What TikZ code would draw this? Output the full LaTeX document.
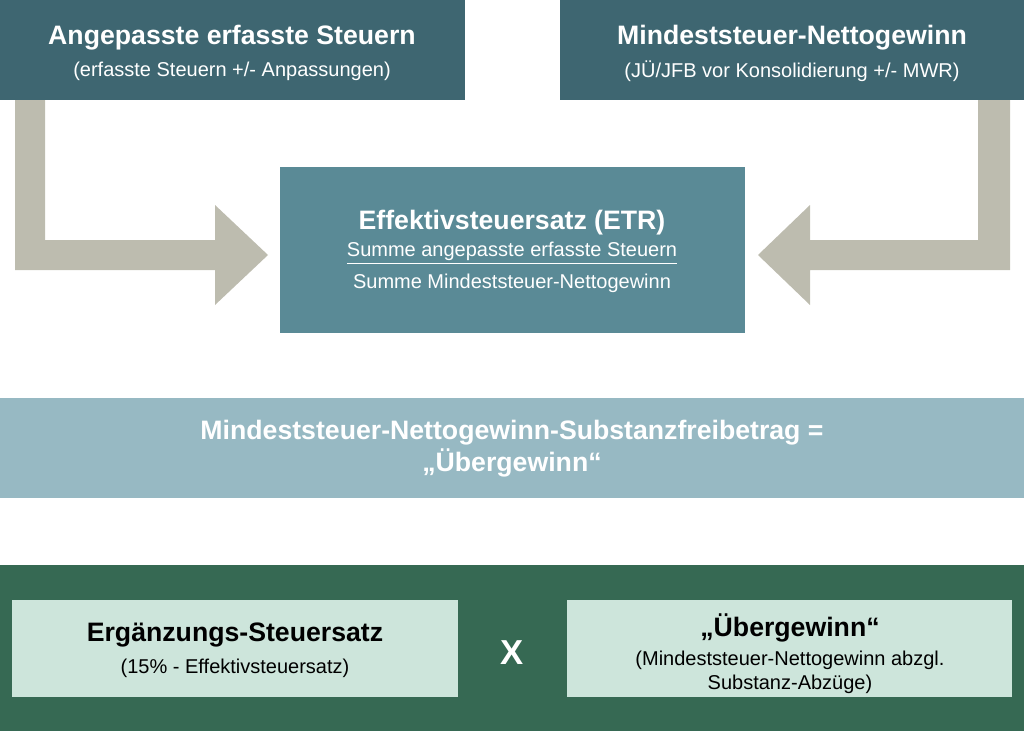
\documentclass[tikz,border=0pt]{standalone}
\usepackage{fontspec}
\setmainfont{Liberation Sans}
\definecolor{dk}{HTML}{3E6671}
\definecolor{mid}{HTML}{5A8A96}
\definecolor{band}{HTML}{97B9C3}
\definecolor{arr}{HTML}{BDBCAF}
\definecolor{grn}{HTML}{366953}
\definecolor{lt}{HTML}{CDE5DB}
\begin{document}
\begin{tikzpicture}[x=0.75pt,y=-0.75pt,
  tt/.style={font=\bfseries\fontsize{20}{24}\selectfont},
  st/.style={font=\fontsize{15}{18}\selectfont}]
\useasboundingbox (0,0) rectangle (1024,731);
% arrows
\fill[arr] (15,100) -- (45,100) -- (45,240) -- (215,240) -- (215,205) -- (268,255) -- (215,305) -- (215,270) -- (15,270) -- cycle;
\fill[arr] (1010,100) -- (978,100) -- (978,240) -- (810,240) -- (810,205) -- (758,255) -- (810,305) -- (810,270) -- (1010,270) -- cycle;
% top boxes
\fill[dk] (0,0) rectangle (465,100);
\fill[dk] (560,0) rectangle (1024,100);
\node[tt,text=white] (a) at (232,38) {Angepasste erfasste Steuern};
\node[st,text=white] (a2) at (232,71) {(erfasste Steuern +/- Anpassungen)};
\node[tt,text=white] (b) at (792,38) {Mindeststeuer-Nettogewinn};
\node[st,text=white] (b2) at (792,71) {(JÜ/JFB vor Konsolidierung +/- MWR)};
% center
\fill[mid] (280,167) rectangle (745,333);
\node[tt,text=white] (c) at (512,223) {Effektivsteuersatz (ETR)};
\node[st,text=white] (c2) at (512,253) {\underline{Summe angepasste erfasste Steuern}};
\node[st,text=white] (c3) at (512,283) {Summe Mindeststeuer-Nettogewinn};
% band
\fill[band] (0,398) rectangle (1024,498);
\node[tt,text=white,align=center] (d) at (512,449) {Mindeststeuer-Nettogewinn-Substanzfreibetrag =\\„Übergewinn“};
% bottom
\fill[grn] (0,565) rectangle (1024,731);
\fill[lt] (12,600) rectangle (458,697);
\fill[lt] (567,600) rectangle (1012,697);
\node[tt] (e) at (235,635) {Ergänzungs-Steuersatz};
\node[st] (e2) at (235,668) {(15\% - Effektivsteuersatz)};
\node[tt,text=white,font=\bfseries\fontsize{26}{30}\selectfont] (x) at (512,653) {X};
\node[tt] (f) at (790,628) {„Übergewinn“};
\node[st,align=center] (f2) at (790,672) {(Mindeststeuer-Nettogewinn abzgl.\\Substanz-Abzüge)};
\end{tikzpicture}
\end{document}
